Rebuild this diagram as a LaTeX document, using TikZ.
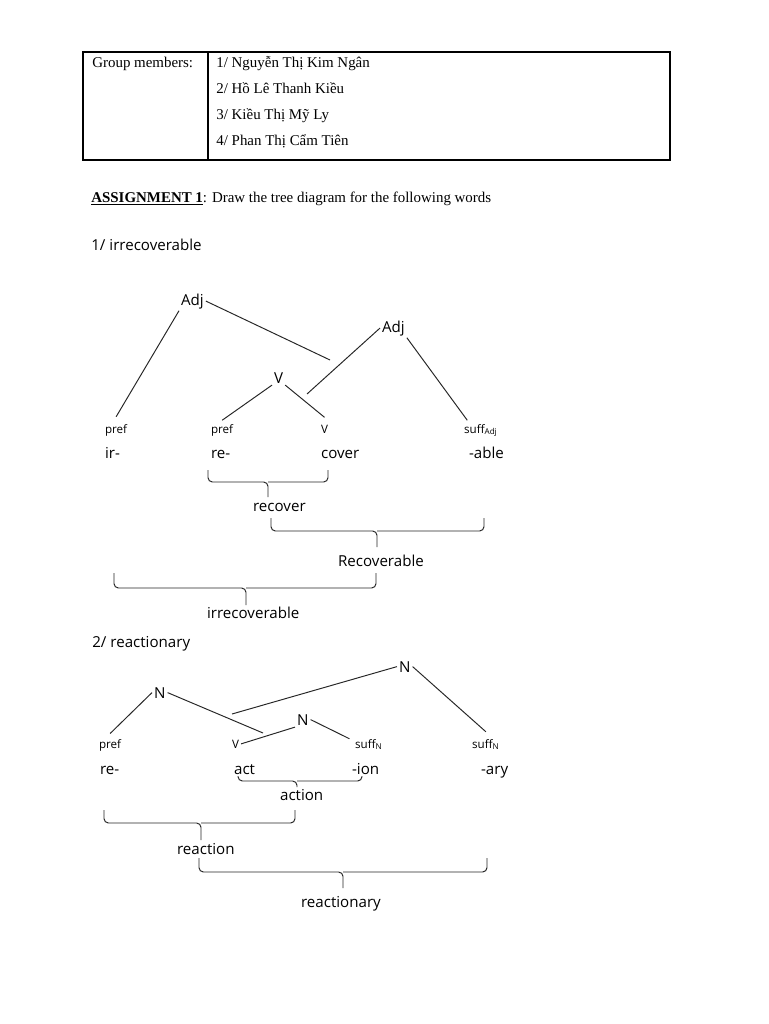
\documentclass[tikz,border=0pt]{standalone}
\usepackage{fontspec}
\setmainfont{Liberation Serif}
\newfontfamily\labelfont{Open Sans}
\usetikzlibrary{positioning}

\begin{document}
\begin{tikzpicture}[
    x=0.02cm, y=-0.02cm,
    txt/.style={anchor=base west, inner sep=0pt, font=\fontsize{8.5}{10}\selectfont},
    head/.style={anchor=base west, inner sep=0pt, font=\labelfont\fontsize{8.6}{10}\selectfont},
    cat/.style={anchor=base west, inner sep=1pt, font=\labelfont\fontsize{8.6}{10}\selectfont},
    tag/.style={anchor=base west, inner sep=1pt, font=\labelfont\fontsize{6.6}{8}\selectfont},
    morph/.style={anchor=base west, inner sep=1pt, font=\labelfont\fontsize{8.6}{10}\selectfont},
    branch/.style={line width=0.55pt, black!85},
    bracket/.style={line width=0.55pt, black!85, rounded corners=2.5pt}
]
    \useasboundingbox[fill=white] (0,0) rectangle (768,1024);

    % table of group members
    \draw[line width=0.6pt] (83,52) rectangle (670,160);
    \draw[line width=0.6pt] (208,52) -- (208,160);
    \node[txt] (grp) at (92,68) {Group members:};
    \node[txt] (m1) at (216,68) {1/ Nguyễn Thị Kim Ngân};
    \node[txt] (m2) at (216,93) {2/ Hồ Lê Thanh Kiều};
    \node[txt] (m3) at (216,119) {3/ Kiều Thị Mỹ Ly};
    \node[txt] (m4) at (216,145) {4/ Phan Thị Cẩm Tiên};

    \node[txt] (task) at (91,202) {\textbf{\underline{ASSIGNMENT 1}}: Draw the tree diagram for the following words};

    % 1/ irrecoverable
    \node[head] (h1) at (91,250) {1/ irrecoverable};
    \node[cat] (adjA) at (179,305) {Adj};
    \node[cat] (adjB) at (380,332) {Adj};
    \node[cat] (vA) at (272,383) {V};
    \node[tag] (pIr) at (103,433) {pref};
    \node[tag] (pRe) at (209,433) {pref};
    \node[tag] (tV) at (319,433) {V};
    \node[tag] (sAdj) at (462,433) {suff\textsubscript{Adj}};
    \node[morph] (ir) at (103,458) {ir-};
    \node[morph] (re) at (209,458) {re-};
    \node[morph] (cover) at (319,458) {cover};
    \node[morph] (able) at (467,458) {-able};
    \coordinate (freeA) at (330,360);
    \coordinate (freeB) at (307,394);

    \draw[branch] (adjA.south west) -- ([yshift=3pt]pIr.north);
    \draw[branch] (adjA.east) -- (freeA);
    \draw[branch] (adjB.west) -- (freeB);
    \draw[branch] (adjB.south east) -- ([xshift=3pt,yshift=1pt]sAdj.north west);
    \draw[branch] (vA.south west) -- ([yshift=1pt]pRe.north);
    \draw[branch] (vA.south east) -- ([yshift=3pt]tV.north);

    \node[morph] (recover) at (251,511) {recover};
    \node[morph] (recov) at (336,566) {Recoverable};
    \node[morph] (irrecov) at (205,618) {irrecoverable};

    \draw[bracket] (208,470) |- (268,482) -- (268,497);
    \draw[bracket] (328,470) |- (268,482);
    \draw[bracket] (271,518) |- (377,531) -- (377,547);
    \draw[bracket] (484,518) |- (377,531);
    \draw[bracket] (114,573) |- (246,588) -- (246,605);
    \draw[bracket] (376,573) |- (246,588);

    % 2/ reactionary
    \node[head] (h2) at (92,647) {2/ reactionary};
    \node[cat] (nA) at (397,672) {N};
    \node[cat] (nB) at (152,698) {N};
    \node[cat] (nC) at (295,725) {N};
    \node[tag] (pRe2) at (97,748) {pref};
    \node[tag] (tV2) at (230,748) {V};
    \node[tag] (sN1) at (353,748) {suff\textsubscript{N}};
    \node[tag] (sN2) at (470,748) {suff\textsubscript{N}};
    \node[morph] (re2) at (98,774) {re-};
    \node[morph] (act) at (232,774) {act};
    \node[morph] (ion) at (350,774) {-ion};
    \node[morph] (ary) at (479,774) {-ary};
    \coordinate (freeC) at (232,714);
    \coordinate (freeD) at (263,733);

    \draw[branch] (nA.west) -- (freeC);
    \draw[branch] (nA.east) -- ([yshift=3pt]sN2.north);
    \draw[branch] (nB.west) -- ([yshift=2pt]pRe2.north);
    \draw[branch] (nC.south west) -- (tV2.east);
    \draw[branch] (nB.east) -- (freeD);
    \draw[branch] (nC.east) -- ([xshift=-2pt,yshift=-1pt]sN1.north west);

    \node[morph] (action) at (278,800) {action};
    \node[morph] (reaction) at (175,854) {reaction};
    \node[morph] (reactionary) at (299,907) {reactionary};

    \draw[bracket] (238,776) |- (297,781) -- (297,787);
    \draw[bracket] (362,776) |- (297,781);
    \draw[bracket] (104,810) |- (201,823) -- (201,840);
    \draw[bracket] (295,810) |- (201,823);
    \draw[bracket] (199,858) |- (343,872) -- (343,888);
    \draw[bracket] (487,858) |- (343,872);
\end{tikzpicture}
\end{document}
